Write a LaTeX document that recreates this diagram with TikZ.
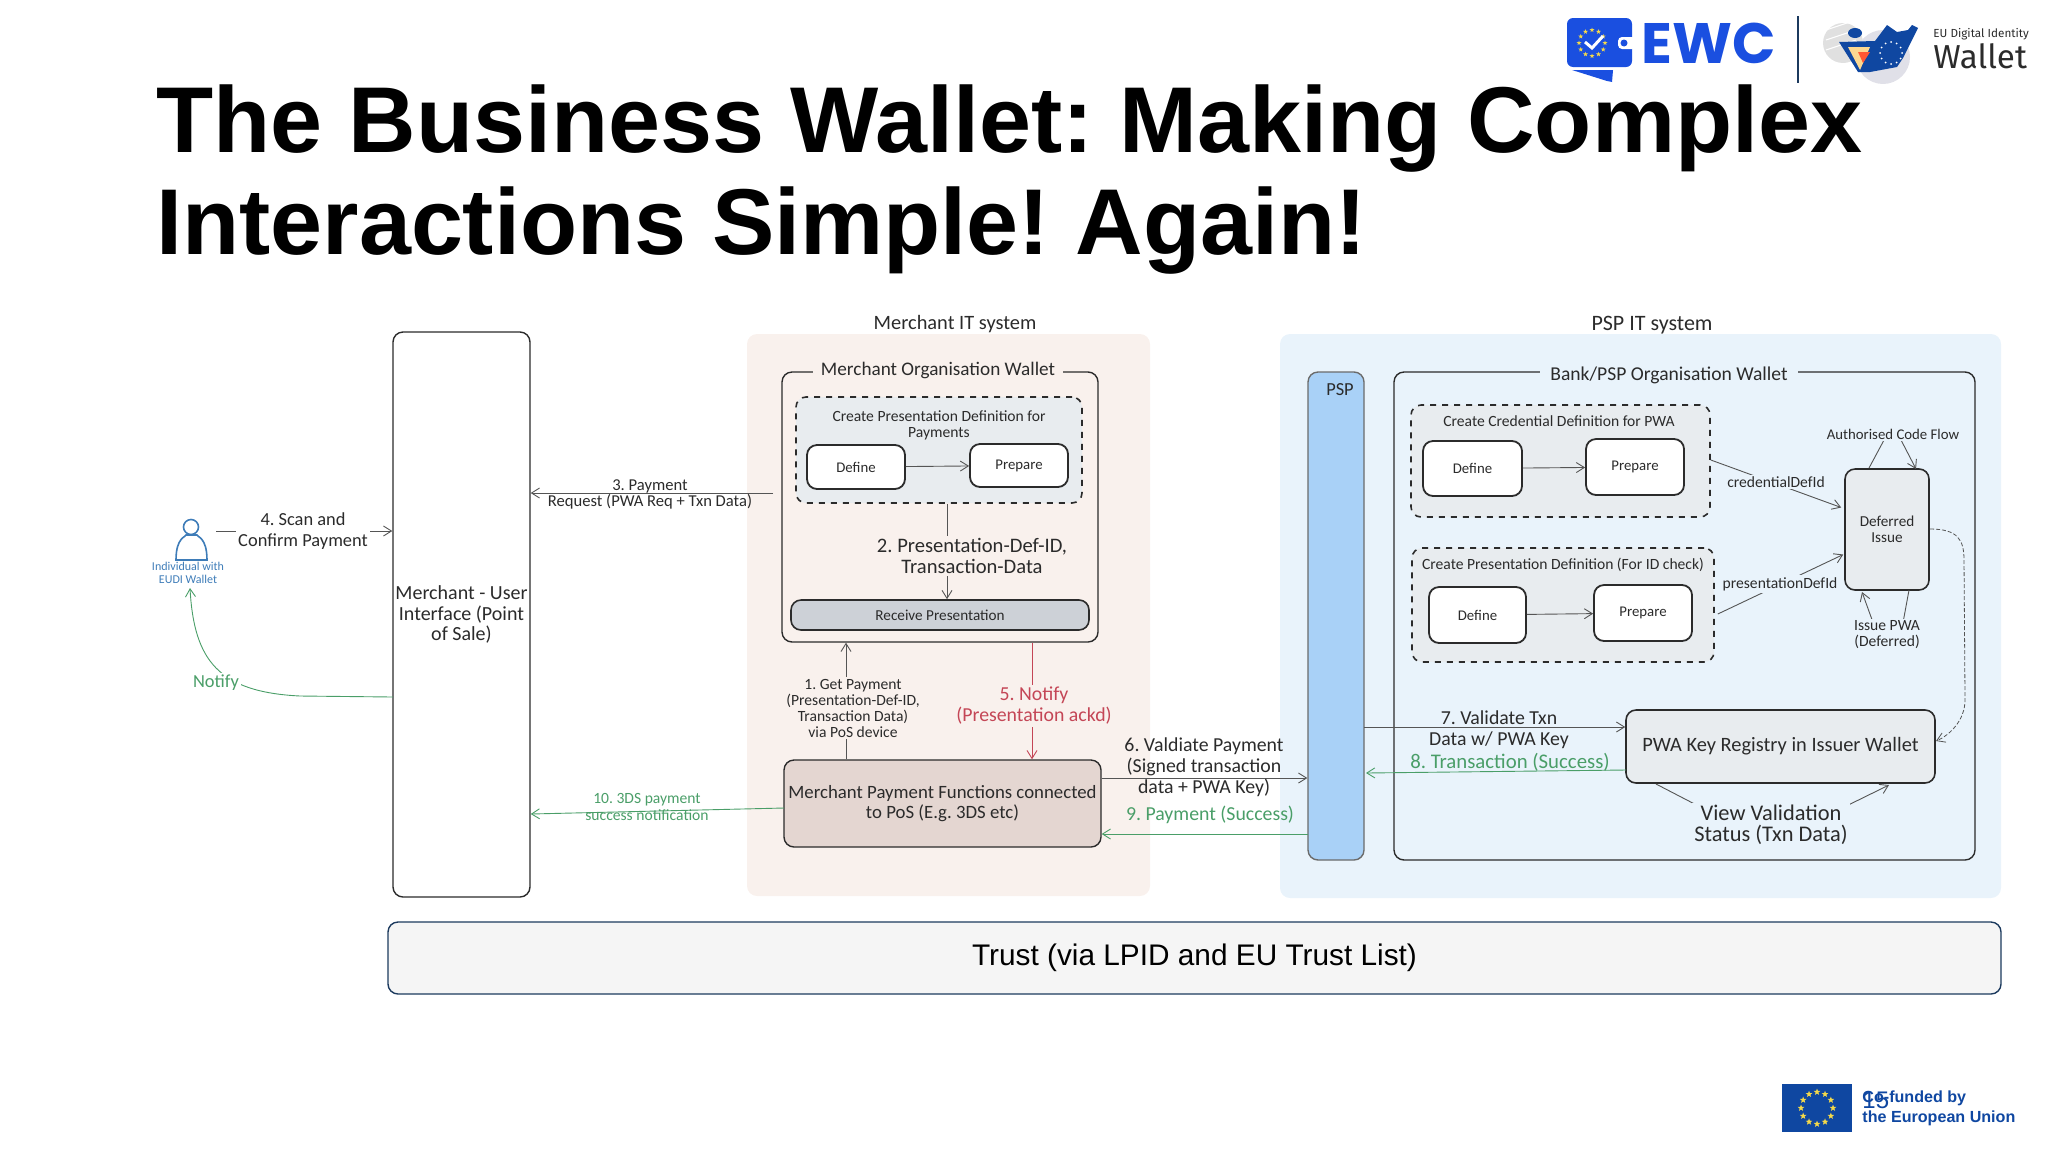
\documentclass[tikz,border=0pt]{standalone}
\usepackage{fontspec}
\setmainfont{Carlito}
\newfontfamily\arialfont{Liberation Sans}
\newfontfamily\logofont{Fira Sans}
\newfontfamily\ewcfont{Poppins}
\usetikzlibrary{calc,arrows.meta,shapes.geometric}
\frenchspacing
\definecolor{ink}{HTML}{2B2B2B}
\definecolor{merchbg}{HTML}{F9F1ED}
\definecolor{pspbg}{HTML}{E9F3FB}
\definecolor{dashgray}{HTML}{E8ECEF}
\definecolor{recvgray}{HTML}{CDD1D7}
\definecolor{funcbrown}{HTML}{E4D6D1}
\definecolor{pspblue}{HTML}{A9D1F7}
\definecolor{okgreen}{HTML}{4A9E68}
\definecolor{alertred}{HTML}{C44656}
\definecolor{userblue}{HTML}{3E7CB8}
\definecolor{ewcblue}{HTML}{1A4FE0}
\definecolor{euiblue}{HTML}{0F47A1}
\definecolor{eustar}{HTML}{F4D94A}
\definecolor{trustline}{HTML}{1C3A5E}
\tikzset{
	handbox/.style={draw=ink,line width=0.7pt,rounded corners=5pt,inner sep=0pt,align=center,font=\fontsize{9}{10.2}\selectfont,text=ink},
	dashbox/.style={handbox,dashed,fill=dashgray,line width=0.8pt},
	stepbox/.style={handbox,fill=white,line width=0.9pt,font=\fontsize{7.4}{8}\selectfont},
	flow/.style={draw=ink!80,line width=0.45pt,-{Straight Barb[length=4pt,width=5pt]}},
	okflow/.style={flow,draw=okgreen},
	alertflow/.style={flow,draw=alertred},
	hsmall/.style={font=\fontsize{7.8}{8}\selectfont,text=ink,align=center,inner sep=1pt},
	hmid/.style={font=\fontsize{9.2}{10.2}\selectfont,text=ink,align=center,inner sep=1pt},
	hwide/.style={font=\fontsize{9.9}{10.5}\selectfont,text=ink,align=center,inner sep=1pt},
	okmid/.style={hwide,text=okgreen},
	alertmid/.style={hwide,text=alertred},
	eustarnode/.style={star,star points=5,star point ratio=2.4,fill=eustar,inner sep=0pt,minimum size=#1},
}
\def\pxbox[#1](#2)(#3,#4)(#5,#6)#7{\node[#1,minimum width={(#5-#3)*0.5pt},minimum height={(#6-#4)*0.5pt}] (#2) at ({(#3+#5)/2},{(#4+#6)/2}) {#7};}

\begin{document}
\begin{tikzpicture}[x=0.5pt,y=-0.5pt]
		%%%%% START %%%%%
		\useasboundingbox (0, 0) rectangle (2048, 1152);
		
		% title
		\node[anchor=base west,inner sep=0pt,font=\arialfont\bfseries\fontsize{46.75}{50}\selectfont] (title1) at (156, 152.5) {The Business Wallet: Making Complex};
		\node[anchor=base west,inner sep=0pt,font=\arialfont\bfseries\fontsize{46.75}{50}\selectfont] (title2) at (156, 254.5) {Interactions Simple! Again!};
		
		% logos
		\fill[ewcblue, rounded corners=3pt] (1567, 18) rectangle (1632, 67);
		\fill[white, rounded corners=2pt] (1618, 37) rectangle (1636, 49);
		\fill[ewcblue] (1624, 43) circle (3.5);
		\fill[ewcblue] (1572, 70) -- (1613, 70) -- (1612, 82) -- (1607, 81) -- cycle;
		\foreach \a in {0,30,...,330}
			\node[eustarnode=2.5pt] (ewcstar\a) at ({1592+13*cos(\a)}, {43+13*sin(\a)}) {};
		\draw[white, line width=1.5pt] (1585, 42) -- (1592, 48) -- (1603, 36);
		\node[anchor=base west,inner sep=0pt,text=ewcblue,font=\ewcfont\bfseries\fontsize{28.5}{30}\selectfont] (ewc) at (1641, 63) {EWC};
		\draw[trustline, line width=0.6pt] (1798, 16) -- (1798, 83);
		
		\fill[black!12] (1843, 43) circle (20);
		\foreach \s in {-10,0,10}
			\draw[white, line width=0.5pt] (1826, {40+\s}) -- (1856, {30+\s});
		\fill[blue!25!black!12] (1883, 57) circle (27);
		\fill[euiblue] (1839, 42) -- (1875, 41) -- (1887, 25) -- (1897, 32) -- (1908, 30) -- (1912, 25) -- (1918, 28) -- (1903, 58) -- (1897, 67) -- (1870, 72) -- (1858, 72) -- cycle;
		\fill[euiblue] (1855, 33) ellipse (7 and 5);
		\fill[yellow!30!orange!40] (1848, 47) -- (1870, 47) -- (1860, 70) -- cycle;
		\fill[red!65!orange!80] (1858, 52) -- (1870, 52) -- (1863, 63) -- cycle;
		\foreach \a in {0,30,...,330}
			\fill[white] ({1891+11*cos(\a)}, {53+11*sin(\a)}) circle (1);
		\node[anchor=base west,inner sep=0pt,font=\logofont\fontsize{5.85}{7}\selectfont,text=ink] (euditext) at (1933, 37) {EU Digital Identity};
		\node[anchor=base west,inner sep=0pt,font=\logofont\fontsize{16.6}{17}\selectfont,text=ink] (wallettext) at (1933, 68) {Wallet};
		
		% backgrounds
		\pxbox[fill=merchbg,rounded corners=5pt,inner sep=0pt](merchit)(747,334)(1150,896){}
		\pxbox[fill=pspbg,rounded corners=5pt,inner sep=0pt](pspit)(1280,334)(2001,898){}
		\node[hmid,font=\fontsize{10.2}{11}\selectfont] (merchlbl) at (955, 324) {Merchant IT system};
		\node[hmid,font=\fontsize{11}{11}\selectfont] (psplbl) at (1652, 325) {PSP IT system};
		
		% point of sale and person
		\pxbox[handbox,fill=white,font=\fontsize{10}{10.2}\selectfont](pos)(393,332)(530,897){Merchant - User\\Interface (Point\\of Sale)}
		\node[draw=userblue,line width=0.8pt,circle,inner sep=0pt,minimum size=7.5pt] (head) at (191, 527) {};
		\draw[userblue, line width=0.8pt, fill=white] (176, 560) .. controls (176, 537) and (186, 537) .. (186, 535) -- (197, 535) .. controls (197, 537) and (207, 537) .. (207, 560) -- cycle;
		\node[inner sep=0pt,text=userblue,align=center,font=\fontsize{6}{6.2}\selectfont] (person) at (188, 573) {Individual with\\EUDI Wallet};
		\coordinate (personr) at (216, 531);
		\coordinate (notifyin) at (190, 588);
		
		% merchant side
		\pxbox[handbox](mwallet)(782,372)(1098,642){}
		\node[hmid,fill=merchbg,inner xsep=4pt,font=\fontsize{9.6}{11}\selectfont] (mwallettitle) at (938, 370) {Merchant Organisation Wallet};
		\pxbox[dashbox](mdash)(796,397)(1082,503){}
		\node[hsmall] (mdashlbl) at (939, 425) {Create Presentation Definition for\\Payments};
		\pxbox[stepbox](mdefine)(807,445)(905,489){Define}
		\pxbox[stepbox](mprepare)(970,444)(1068,487){Prepare}
		\pxbox[handbox,fill=recvgray,font=\fontsize{7.6}{8}\selectfont,line width=0.8pt](recv)(791,600)(1089,630){Receive Presentation}
		\pxbox[handbox,fill=funcbrown,font=\fontsize{9.4}{10.2}\selectfont](func)(784,760)(1101,847){Merchant Payment Functions connected\\to PoS (E.g. 3DS etc)}
		
		% psp side
		\pxbox[handbox,fill=pspblue,draw=ink!70](psp)(1308,372)(1364,860){}
		\node[hmid] (psplabel) at (1340, 390) {PSP};
		\pxbox[handbox](bwallet)(1394,372)(1975,860){}
		\node[hmid,fill=pspbg,inner xsep=5pt,font=\fontsize{9.8}{11}\selectfont] (bwallettitle) at (1669, 375) {Bank/PSP Organisation Wallet};
		\pxbox[dashbox](cdash)(1411,405)(1710,517){}
		\node[hsmall] (cdashlbl) at (1559, 421) {Create Credential Definition for PWA};
		\pxbox[stepbox](cdefine)(1423,441)(1522,496){Define}
		\pxbox[stepbox](cprepare)(1586,439)(1684,495){Prepare}
		\pxbox[dashbox](pdash)(1412,548)(1714,662){}
		\node[hsmall] (pdashlbl) at (1563, 565) {Create Presentation Definition (For ID check)};
		\pxbox[stepbox](pdefine)(1429,587)(1526,643){Define}
		\pxbox[stepbox](pprepare)(1594,585)(1692,641){Prepare}
		\pxbox[handbox,fill=dashgray,font=\fontsize{7.6}{8.2}\selectfont,line width=0.8pt](defer)(1845,469)(1929,590){Deferred\\Issue}
		\pxbox[handbox,fill=dashgray,font=\fontsize{10.2}{11}\selectfont,line width=0.8pt](registry)(1626,710)(1935,783){PWA Key Registry in Issuer Wallet}
		
		% connectors
		\draw[flow] (personr) -- (pos.west |- personr);
		\node[hmid,fill=white] (scan) at (303, 531) {4. Scan and\\Confirm Payment};
		\coordinate (payfrom) at (773, 493);
		\draw[flow] (payfrom) -- (pos.east |- payfrom);
		\node[hsmall,font=\fontsize{8.3}{8}\selectfont] (pay) at (650, 494) {3. Payment\\Request (PWA Req + Txn Data)};
		\coordinate (notifyout) at (393, 697);
		\draw[okflow] (notifyout) -- (300, 696) .. controls (218, 692) and (194, 660) .. (notifyin);
		\node[okmid,font=\fontsize{9.2}{10.2}\selectfont,fill=white] (notify) at (216, 683) {Notify};
		\coordinate (succfrom) at (784, 808);
		\draw[okflow] (succfrom) -- (pos.east |- 0, 814);
		\node[hsmall,text=okgreen] (succ) at (647, 807) {10. 3DS payment\\[0.5pt]success notification};
		\draw[flow] (mdefine) -- (mprepare);
		\draw[flow] (mdash.south -| 947, 0) -- (recv.north -| 947, 0);
		\node[hwide,font=\fontsize{10.3}{10.4}\selectfont,fill=merchbg] (pdefid) at (972, 556) {2. Presentation-Def-ID,\\Transaction-Data};
		\draw[flow] (func.north -| 846, 0) -- (mwallet.south -| 846, 0);
		\node[hsmall,fill=merchbg] (getpay) at (853, 708) {1. Get Payment\\(Presentation-Def-ID,\\Transaction Data)\\via PoS device};
		\draw[alertflow] (mwallet.south -| 1032, 0) -- (func.north -| 1032, 0);
		\node[alertmid,fill=merchbg] (mnotify) at (1034, 706) {5. Notify\\(Presentation ackd)};
		\coordinate (valfrom) at (1102, 778);
		\draw[flow] (valfrom) -- (psp.west |- valfrom);
		\node[hwide] (validate) at (1204, 767) {6. Valdiate Payment\\(Signed transaction\\data + PWA Key)};
		\coordinate (okfrom) at (1308, 834);
		\draw[okflow] (okfrom) -- (func.east |- okfrom);
		\node[okmid] (payok) at (1210, 815) {9. Payment (Success)};
		\draw[flow] (cdefine) -- (cprepare);
		\draw[flow] (pdefine) -- (pprepare);
		\draw[flow] ($(cdash.east)+(0,-1)$) -- ($(defer.west)+(-3,-22)$);
		\node[hsmall,fill=pspbg] (creddef) at (1776, 482) {credentialDefId};
		\draw[flow] ($(pdash.east)+(3,9)$) -- ($(defer.west)+(-1,25)$);
		\node[hsmall,fill=pspbg] (presdef) at (1780, 584) {presentationDefId};
		\draw[flow] (1869, 468) -- (1884, 440) -- (1901, 440) -- (1916, 469);
		\node[hsmall,font=\fontsize{7.4}{8}\selectfont,fill=pspbg] (authflow) at (1893, 434) {Authorised Code Flow};
		\draw[flow] (1909, 590) -- (1902, 628) -- (1875, 628) -- (1862, 592);
		\node[hsmall,fill=pspbg] (issue) at (1887, 635) {Issue PWA\\(Deferred)};
		\draw[flow, dashed, line width=0.4pt, dash pattern=on 2pt off 1pt] (1930, 529) .. controls (1958, 529) and (1964, 540) .. (1964, 560) -- (1965, 700) .. controls (1965, 720) and (1950, 735) .. (1936, 741);
		\coordinate (txnfrom) at (1364, 727);
		\draw[flow] (txnfrom) -- (registry.west |- txnfrom);
		\node[hwide] (txn) at (1499, 730) {7. Validate Txn\\Data w/ PWA Key};
		\coordinate (txnok) at (1626, 770);
		\draw[okflow] (txnok) -- (1366, 773);
		\node[okmid,font=\fontsize{10.4}{11}\selectfont] (txnlbl) at (1510, 762) {8. Transaction (Success)};
		\draw[flow] (1656, 784) -- (1710, 812) -- (1834, 812) -- (1889, 785);
		\node[hwide,font=\fontsize{11.2}{10.5}\selectfont,fill=pspbg] (view) at (1771, 825) {View Validation\\Status (Txn Data)};
		
		% trust bar
		\pxbox[draw=trustline,fill=black!4,rounded corners=5pt,line width=0.7pt,inner sep=0pt,font=\arialfont\fontsize{14.9}{16}\selectfont](trust)(388,922)(2001,994){\raisebox{-2pt}{Trust (via LPID and EU Trust List)}}
		
		% footer
		\fill[euiblue] (1782, 1084) rectangle (1852, 1132);
		\foreach \a in {0,30,...,330}
			\node[eustarnode=3.5pt] (flagstar\a) at ({1817+16*cos(\a)}, {1108+16*sin(\a)}) {};
		\node[anchor=base west,inner sep=0pt,text=euiblue,font=\arialfont\bfseries\fontsize{8.05}{9}\selectfont] (cofund) at (1862, 1102) {Co-funded by};
		\node[anchor=base west,inner sep=0pt,text=euiblue,font=\arialfont\bfseries\fontsize{8.05}{9}\selectfont] (union) at (1862, 1122) {the European Union};
		\node[anchor=base west,inner sep=0pt,text=euiblue,font=\arialfont\fontsize{12}{12}\selectfont] (pageno) at (1862, 1108) {15};
		%%%%% END %%%%%
	\end{tikzpicture}
\end{document}
